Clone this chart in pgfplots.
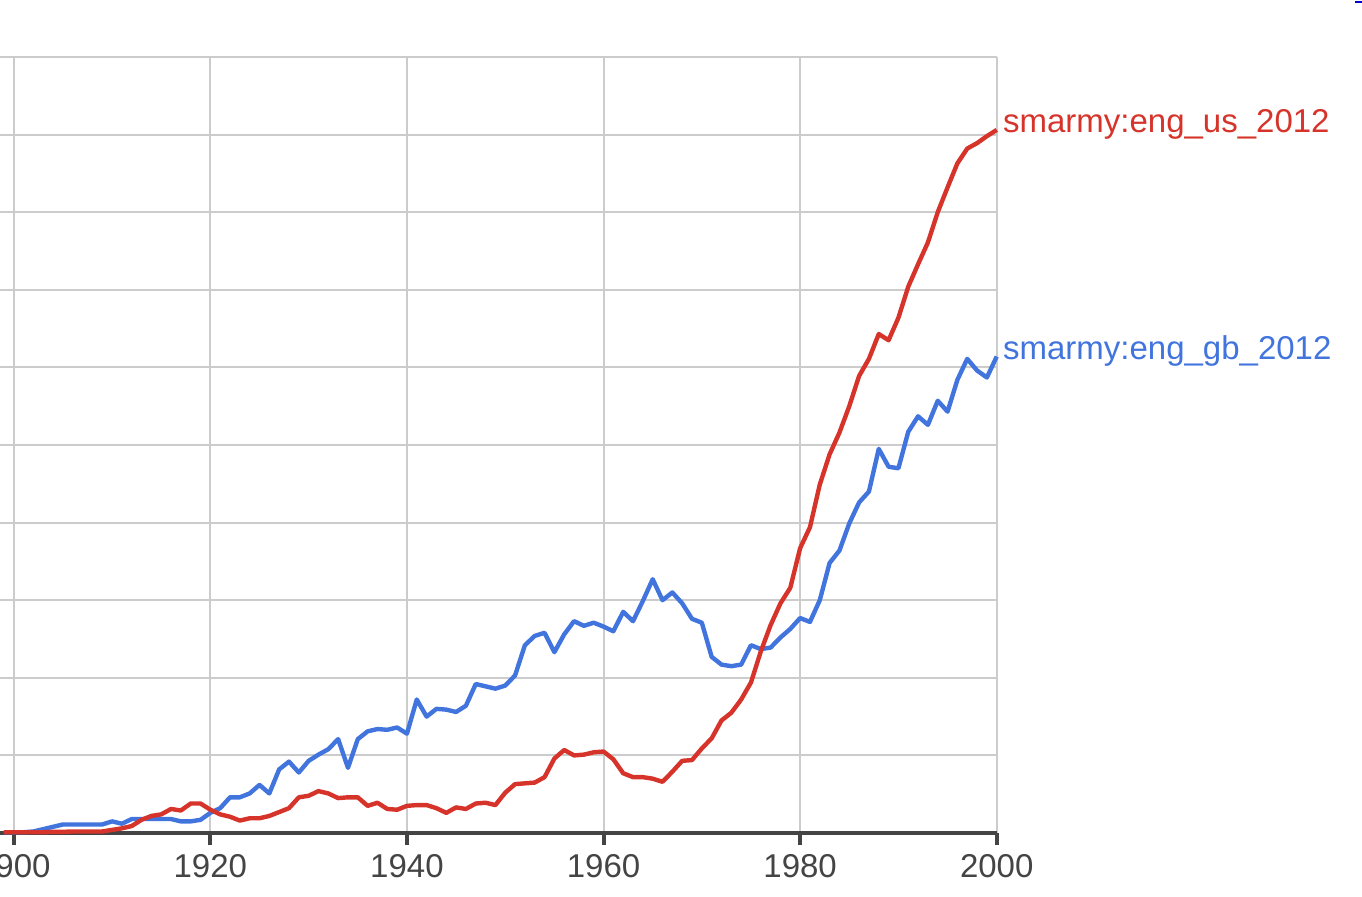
\documentclass[border=0pt]{standalone}
\usepackage{pgfplots}
\pgfplotsset{compat=1.18}
\usepackage{fontspec}
\setmainfont{Liberation Sans}
\definecolor{gbblue}{RGB}{66,116,222}
\definecolor{usred}{RGB}{214,52,42}
\definecolor{axgray}{RGB}{68,68,68}
\definecolor{gridgray}{RGB}{204,204,204}
\definecolor{dashblue}{RGB}{0,0,204}
\begin{document}
\begin{tikzpicture}
\begin{axis}[
 scale only axis, width=498.35pt, height=388pt,
 xmin=1898.6, xmax=2000, ymin=0, ymax=10,
 axis x line=bottom, axis y line=left,
 x axis line style={-, draw=axgray, line width=1.75pt},
 y axis line style={draw=none},
 xtick={1900,1920,...,2000}, xticklabels={1900,1920,1940,1960,1980,2000},
 ytick={0,1,...,10}, yticklabels={},
 ytick style={draw=none},
 xtick style={draw=axgray, line width=2pt},
 tick align=outside, major tick length=6pt,
 grid=major, major grid style={draw=gridgray, line width=1pt},
 xticklabel style={font=\fontsize{16.5}{20}\selectfont, text=axgray, yshift=-1pt},
 clip=false,
]
\addplot[gbblue, line width=2.2pt, line join=round] coordinates {
(1899,0.01)(1900,0.01)(1901,0.01)(1902,0.02)(1903,0.05)(1904,0.08)(1905,0.11)(1906,0.11)(1907,0.11)(1908,0.11)(1909,0.11)
(1910,0.15)(1911,0.12)(1912,0.18)(1913,0.18)(1914,0.18)(1915,0.18)(1916,0.18)(1917,0.15)(1918,0.15)(1919,0.17)
(1920,0.26)(1921,0.32)(1922,0.46)(1923,0.46)(1924,0.51)(1925,0.62)(1926,0.51)(1927,0.82)(1928,0.92)(1929,0.78)
(1930,0.93)(1931,1.01)(1932,1.08)(1933,1.21)(1934,0.84)(1935,1.21)(1936,1.31)(1937,1.34)(1938,1.33)(1939,1.36)
(1940,1.28)(1941,1.72)(1942,1.50)(1943,1.60)(1944,1.59)(1945,1.56)(1946,1.64)(1947,1.92)(1948,1.89)(1949,1.86)
(1950,1.90)(1951,2.03)(1952,2.42)(1953,2.54)(1954,2.58)(1955,2.33)(1956,2.56)(1957,2.73)(1958,2.67)(1959,2.71)
(1960,2.66)(1961,2.60)(1962,2.85)(1963,2.73)(1964,2.99)(1965,3.27)(1966,3.00)(1967,3.10)(1968,2.96)(1969,2.76)
(1970,2.71)(1971,2.27)(1972,2.17)(1973,2.15)(1974,2.17)(1975,2.42)(1976,2.37)(1977,2.39)(1978,2.52)(1979,2.63)
(1980,2.77)(1981,2.72)(1982,3.00)(1983,3.48)(1984,3.64)(1985,3.99)(1986,4.26)(1987,4.40)(1988,4.95)(1989,4.72)
(1990,4.70)(1991,5.17)(1992,5.37)(1993,5.26)(1994,5.57)(1995,5.43)(1996,5.84)(1997,6.11)(1998,5.96)(1999,5.87)
(2000,6.14)};
\addplot[usred, line width=2.2pt, line join=round] coordinates {
(1899,0.01)(1900,0.01)(1901,0.01)(1902,0.01)(1903,0.01)(1904,0.015)(1905,0.015)(1906,0.02)(1907,0.02)(1908,0.02)(1909,0.02)
(1910,0.04)(1911,0.06)(1912,0.09)(1913,0.17)(1914,0.22)(1915,0.24)(1916,0.31)(1917,0.29)(1918,0.38)(1919,0.38)
(1920,0.30)(1921,0.24)(1922,0.21)(1923,0.16)(1924,0.19)(1925,0.19)(1926,0.22)(1927,0.27)(1928,0.32)(1929,0.46)
(1930,0.48)(1931,0.54)(1932,0.51)(1933,0.45)(1934,0.46)(1935,0.46)(1936,0.35)(1937,0.39)(1938,0.31)(1939,0.30)
(1940,0.35)(1941,0.36)(1942,0.36)(1943,0.32)(1944,0.26)(1945,0.33)(1946,0.31)(1947,0.38)(1948,0.39)(1949,0.36)
(1950,0.52)(1951,0.63)(1952,0.64)(1953,0.65)(1954,0.72)(1955,0.96)(1956,1.07)(1957,1.00)(1958,1.01)(1959,1.04)
(1960,1.05)(1961,0.95)(1962,0.77)(1963,0.72)(1964,0.72)(1965,0.70)(1966,0.66)(1967,0.79)(1968,0.93)(1969,0.94)
(1970,1.09)(1971,1.22)(1972,1.45)(1973,1.55)(1974,1.72)(1975,1.94)(1976,2.34)(1977,2.68)(1978,2.96)(1979,3.16)
(1980,3.67)(1981,3.94)(1982,4.49)(1983,4.88)(1984,5.16)(1985,5.50)(1986,5.89)(1987,6.11)(1988,6.43)(1989,6.35)
(1990,6.64)(1991,7.04)(1992,7.33)(1993,7.61)(1994,8.00)(1995,8.32)(1996,8.63)(1997,8.82)(1998,8.89)(1999,8.98)
(2000,9.06)};
\node[anchor=base west, text=usred, font=\fontsize{16.5}{20}\selectfont, inner sep=0pt, xshift=3pt, yshift=-1.5pt] at (axis cs:2000,9.06) {smarmy:eng\_us\_2012};
\node[anchor=base west, text=gbblue, font=\fontsize{16.5}{20}\selectfont, inner sep=0pt, xshift=3pt, yshift=-1.5pt] at (axis cs:2000,6.14) {smarmy:eng\_gb\_2012};
\coordinate (BL) at (rel axis cs:0,0);
\coordinate (TR) at (rel axis cs:1,1);
\end{axis}
\pgfresetboundingbox
\useasboundingbox ([yshift=-31.5pt]BL) rectangle ([xshift=182.65pt,yshift=28.5pt]TR);
\fill[dashblue] ([xshift=179.15pt,yshift=27pt]TR) rectangle ([xshift=182.65pt,yshift=28.2pt]TR);
\end{tikzpicture}
\end{document}
